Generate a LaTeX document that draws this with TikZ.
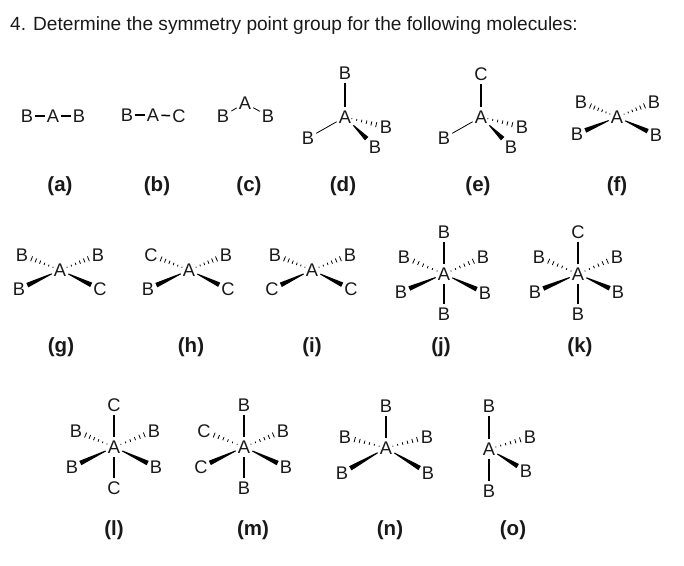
\documentclass[tikz,border=0pt]{standalone}
\usepackage{fontspec}
\setmainfont{Liberation Sans}
\usetikzlibrary{calc,decorations.pathreplacing}
\tikzset{
  atom/.style={font=\fontsize{18.3}{18}\selectfont, inner xsep=2pt, inner ysep=3.5pt, text height=13pt, text depth=0pt, text=black!90},
  sublabel/.style={font=\fontsize{20.5}{20}\bfseries\selectfont, inner sep=0pt, text=black!90},
  titletext/.style={font=\fontsize{19.1}{19}\selectfont, anchor=base west, inner sep=0pt, text=black!90},
  bond/.style={draw=black, line width=1.5pt},
  thinbond/.style={draw=black, line width=.8pt},
  wedgebond/.style={decorate, decoration={show path construction, lineto code={
    \fill[black] ($(\tikzinputsegmentfirst)!.5pt!90:(\tikzinputsegmentlast)$)
      -- ($(\tikzinputsegmentlast)!2.4pt!-90:(\tikzinputsegmentfirst)$)
      -- ($(\tikzinputsegmentlast)!2.4pt!90:(\tikzinputsegmentfirst)$)
      -- ($(\tikzinputsegmentfirst)!.5pt!-90:(\tikzinputsegmentlast)$) -- cycle;
  }}},
  hashbond/.style={decorate, decoration={show path construction, lineto code={
    \foreach \t/\w in {-.06/.5,.14/.9,.34/1.3,.54/1.7,.74/2.1,.94/2.6}{
      \draw[black, line width=.8pt]
        ($(\tikzinputsegmentfirst)!\t!(\tikzinputsegmentlast)!\w pt!90:(\tikzinputsegmentlast)$)
        -- ($(\tikzinputsegmentfirst)!\t!(\tikzinputsegmentlast)!\w pt!-90:(\tikzinputsegmentlast)$);
    }
  }}}
}
\begin{document}
\begin{tikzpicture}[x=1pt,y=-1pt]
\useasboundingbox (0,0) rectangle (684,565);
\node[titletext] (title) at (10,30) {4. Determine the symmetry point group for the following molecules:};
% (a)
\node[atom] (a1) at (27,116) {B}; \node[atom] (aA) at (53,116) {A}; \node[atom] (a2) at (79,116) {B};
\draw[bond] (a1) -- (aA); \draw[bond] (aA) -- (a2);
\node[sublabel] (la) at (60,186) {(a)};
% (b)
\node[atom] (b1) at (127,115) {B}; \node[atom] (bA) at (153,115) {A}; \node[atom] (b2) at (179,116) {C};
\draw[bond] (b1) -- (bA); \draw[bond] (bA) -- (b2);
\node[sublabel] (lb) at (157,186) {(b)};
% (c)
\node[atom] (c1) at (223,116) {B}; \node[atom] (cA) at (245,103) {A}; \node[atom] (c2) at (268,116) {B};
\draw[thinbond] (c1) -- (cA); \draw[thinbond] (cA) -- (c2);
\node[sublabel] (lc) at (249,186) {(c)};
% (d)
\node[atom] (dA) at (345,117) {A}; \node[atom] (dt) at (345,73) {B}; \node[atom] (dl) at (308,138) {B};
\node[atom] (dr) at (386,127) {B}; \node[atom] (dw) at (375,147) {B};
\draw[bond] (dt) -- (dA); \draw[thinbond] (dl) -- (dA);
\path[hashbond] (dA) -- (dr); \path[wedgebond] (dA) -- (dw);
\node[sublabel] (ld) at (343,186) {(d)};
% (e)
\node[atom] (eA) at (481,117) {A}; \node[atom] (et) at (481,74) {C}; \node[atom] (el) at (444,138) {B};
\node[atom] (er) at (522,127) {B}; \node[atom] (ew) at (511,147) {B};
\draw[bond] (et) -- (eA); \draw[thinbond] (el) -- (eA);
\path[hashbond] (eA) -- (er); \path[wedgebond] (eA) -- (ew);
\node[sublabel] (le) at (478,186) {(e)};
% (f)
\node[atom] (fA) at (617,117) {A}; \node[atom] (f1) at (581,102) {B}; \node[atom] (f2) at (654,102) {B};
\node[atom] (f3) at (577,134) {B}; \node[atom] (f4) at (656,135) {B};
\path[hashbond] (fA) -- (f1); \path[hashbond] (fA) -- (f2);
\path[wedgebond] (fA) -- (f3); \path[wedgebond] (fA) -- (f4);
\node[sublabel] (lf) at (617,186) {(f)};
% (g)
\node[atom] (gA) at (60,270) {A}; \node[atom] (g1) at (22,255) {B}; \node[atom] (g2) at (98,255) {B};
\node[atom] (g3) at (19,289) {B}; \node[atom] (g4) at (100,289) {C};
\path[hashbond] (gA) -- (g1); \path[hashbond] (gA) -- (g2);
\path[wedgebond] (gA) -- (g3); \path[wedgebond] (gA) -- (g4);
\node[sublabel] (lg) at (61,347) {(g)};
% (h)
\node[atom] (hA) at (189,270) {A}; \node[atom] (h1) at (151,255) {C}; \node[atom] (h2) at (226,255) {B};
\node[atom] (h3) at (148,289) {B}; \node[atom] (h4) at (228,289) {C};
\path[hashbond] (hA) -- (h1); \path[hashbond] (hA) -- (h2);
\path[wedgebond] (hA) -- (h3); \path[wedgebond] (hA) -- (h4);
\node[sublabel] (lh) at (191,347) {(h)};
% (i)
\node[atom] (iA) at (312,270) {A}; \node[atom] (i1) at (275,255) {B}; \node[atom] (i2) at (350,255) {B};
\node[atom] (i3) at (272,289) {C}; \node[atom] (i4) at (351,289) {C};
\path[hashbond] (iA) -- (i1); \path[hashbond] (iA) -- (i2);
\path[wedgebond] (iA) -- (i3); \path[wedgebond] (iA) -- (i4);
\node[sublabel] (li) at (312,347) {(i)};
% (j)
\node[atom] (jA) at (444,274) {A}; \node[atom] (jt) at (444,232) {B}; \node[atom] (jb) at (444,314) {B};
\node[atom] (j1) at (404,257) {B}; \node[atom] (j2) at (483,257) {B};
\node[atom] (j3) at (401,292) {B}; \node[atom] (j4) at (485,293) {B};
\draw[bond] (jt) -- (jA); \draw[bond] (jb) -- (jA);
\path[hashbond] (jA) -- (j1); \path[hashbond] (jA) -- (j2);
\path[wedgebond] (jA) -- (j3); \path[wedgebond] (jA) -- (j4);
\node[sublabel] (lj) at (441,347) {(j)};
% (k)
\node[atom] (kA) at (578,274) {A}; \node[atom] (kt) at (578,232) {C}; \node[atom] (kb) at (578,314) {B};
\node[atom] (k1) at (539,257) {B}; \node[atom] (k2) at (617,257) {B};
\node[atom] (k3) at (535,292) {B}; \node[atom] (k4) at (618,292) {B};
\draw[bond] (kt) -- (kA); \draw[bond] (kb) -- (kA);
\path[hashbond] (kA) -- (k1); \path[hashbond] (kA) -- (k2);
\path[wedgebond] (kA) -- (k3); \path[wedgebond] (kA) -- (k4);
\node[sublabel] (lk) at (580,347) {(k)};
% (l)
\node[atom] (lA) at (114,447) {A}; \node[atom] (lt) at (114,405) {C}; \node[atom] (lbt) at (114,488) {C};
\node[atom] (l1) at (76,431) {B}; \node[atom] (l2) at (154,431) {B};
\node[atom] (l3) at (72,467) {B}; \node[atom] (l4) at (156,467) {B};
\draw[bond] (lt) -- (lA); \draw[bond] (lbt) -- (lA);
\path[hashbond] (lA) -- (l1); \path[hashbond] (lA) -- (l2);
\path[wedgebond] (lA) -- (l3); \path[wedgebond] (lA) -- (l4);
\node[sublabel] (ll) at (114,530) {(l)};
% (m)
\node[atom] (mA) at (244,447) {A}; \node[atom] (mt) at (244,405) {B}; \node[atom] (mb) at (244,488) {B};
\node[atom] (m1) at (204,431) {C}; \node[atom] (m2) at (283,431) {B};
\node[atom] (m3) at (201,467) {C}; \node[atom] (m4) at (286,467) {B};
\draw[bond] (mt) -- (mA); \draw[bond] (mb) -- (mA);
\path[hashbond] (mA) -- (m1); \path[hashbond] (mA) -- (m2);
\path[wedgebond] (mA) -- (m3); \path[wedgebond] (mA) -- (m4);
\node[sublabel] (lm) at (253,530) {(m)};
% (n)
\node[atom] (nA) at (386,448) {A}; \node[atom] (nt) at (386,406) {B};
\node[atom] (n1) at (345,437) {B}; \node[atom] (n2) at (427,437) {B};
\node[atom] (n3) at (342,473) {B}; \node[atom] (n4) at (428,473) {B};
\draw[bond] (nt) -- (nA);
\path[hashbond] (nA) -- (n1); \path[hashbond] (nA) -- (n2);
\path[wedgebond] (nA) -- (n3); \path[wedgebond] (nA) -- (n4);
\node[sublabel] (ln) at (390,530) {(n)};
% (o)
\node[atom] (oA) at (489,449) {A}; \node[atom] (ot) at (489,406) {B}; \node[atom] (ob) at (489,491) {B};
\node[atom] (o2) at (530,437) {B}; \node[atom] (o4) at (526,471) {B};
\draw[bond] (ot) -- (oA); \draw[bond] (ob) -- (oA);
\path[hashbond] (oA) -- (o2); \path[wedgebond] (oA) -- (o4);
\node[sublabel] (lo) at (513,530) {(o)};
\end{tikzpicture}
\end{document}
